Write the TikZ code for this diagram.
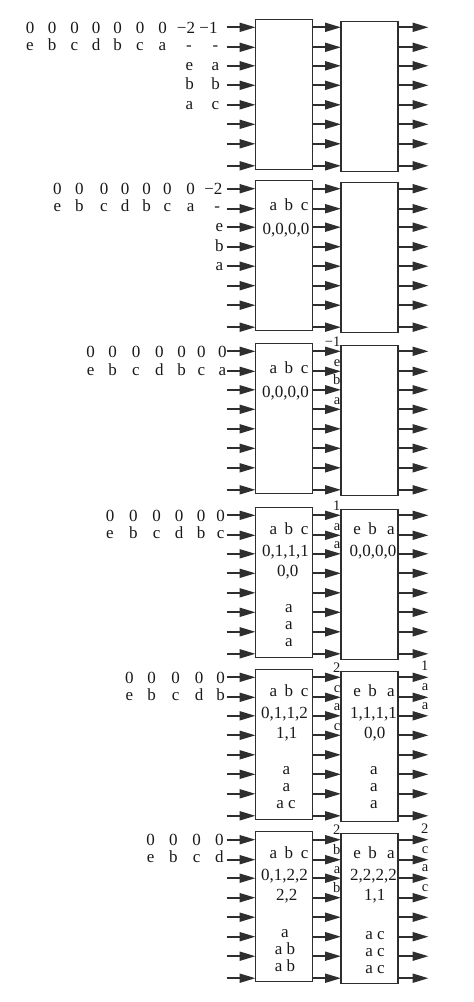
\documentclass[tikz,border=0pt]{standalone}
\usepackage{fontspec}
\setmainfont{Liberation Serif}
\usetikzlibrary{arrows.meta}
\begin{document}
\begin{tikzpicture}[x=1pt,y=-1pt,
  box/.style={draw=black!82, line width=1.5pt, minimum width=57pt, minimum height=150pt, inner sep=0pt, outer sep=0pt, anchor=north west},
  arr/.style={draw=black!82, line width=1.9pt, -{Triangle[length=16pt,width=9pt]}},
  lt/.style={anchor=base, inner sep=0pt, text=black!90, font=\fontsize{17}{20}\selectfont},
  sm/.style={anchor=base east, inner sep=0pt, text=black!90, font=\fontsize{14.5}{16}\selectfont},
]
\useasboundingbox (0,0) rectangle (474,1002);
\coordinate (inx) at (226.5,0);
\coordinate (outx) at (428.5,0);
% boxes and arrows
\foreach \p/\t in {1/19.3,2/180.7,3/343.3,4/507.3,5/669.3,6/831.7}{
  \node[box] (L\p) at (255.5,\t) {};
  \node[box] (R\p) at (341,\t+2) {};
  \foreach \r/\o in {1/8,2/28,3/46.5,4/66,5/85.5,6/105,7/124.5,8/146.5}{
    \coordinate (r\p x\r) at (0,\t+\o);
    \draw[arr] (inx |- r\p x\r) -- (L\p.west |- r\p x\r);
    \draw[arr] (L\p.east |- r\p x\r) -- (R\p.west |- r\p x\r);
    \draw[arr] (R\p.east |- r\p x\r) -- (outx |- r\p x\r);
  }
}
% ---------- panel 1
\foreach \x/\a/\b [count=\i] in {30/0/e,52/0/b,74.5/0/c,96/0/d,117.5/0/b,140/0/c,162.5/0/a}{
  \node[lt] (t1a\i) at (\x,33.3) {\a};
  \node[lt] (t1b\i) at (\x,50.3) {\b};
}
\node[lt] (t1m2) at (186,33.3) {−2};
\node[lt] (t1m1) at (208.5,33.3) {−1};
\node[lt] (t1d1) at (189,50.3) {-};
\node[lt] (t1d2) at (215.5,50.3) {-};
\node[lt] (t1c1) at (189.5,70.3) {e};
\node[lt] (t1c2) at (215.5,70.3) {a};
\node[lt] (t1e1) at (189.5,89.8) {b};
\node[lt] (t1e2) at (215.5,89.8) {b};
\node[lt] (t1f1) at (189.5,109.3) {a};
\node[lt] (t1f2) at (215.5,109.3) {c};
% ---------- panel 2
\foreach \x/\a/\b [count=\i] in {57.3/0/e,79.3/0/b,104/0/c,125/0/d,146.7/0/b,167.3/0/c,190.7/0/a}{
  \node[lt] (t2a\i) at (\x,194.7) {\a};
  \node[lt] (t2b\i) at (\x,211.7) {\b};
}
\node[lt] (t2m2) at (213.3,194.7) {−2};
\node[lt] (t2d1) at (217.3,211.7) {-};
\node[lt] (t2c1) at (219.3,231.7) {e};
\node[lt] (t2c2) at (219.3,251.2) {b};
\node[lt] (t2c3) at (219.3,270.7) {a};
\node[lt] (t2i1) at (289,210.7) {a\hspace{.45em}b\hspace{.45em}c};
\node[lt] (t2i2) at (286,234.7) {0,0,0,0};
% ---------- panel 3
\foreach \x/\a/\b [count=\i] in {90.7/0/e,112.7/0/b,136/0/c,159.3/0/d,181.7/0/b,201.3/0/c,222.3/0/a}{
  \node[lt] (t3a\i) at (\x,357.3) {\a};
  \node[lt] (t3b\i) at (\x,375.3) {\b};
}
\node[lt] (t3i1) at (289,373.3) {a\hspace{.45em}b\hspace{.45em}c};
\node[lt] (t3i2) at (285.5,397.3) {0,0,0,0};
\node[sm] (t3s1) at (340.5,346.3) {−1};
\node[sm] (t3s2) at (340.5,366.3) {e};
\node[sm] (t3s3) at (340.5,384.8) {b};
\node[sm] (t3s4) at (340.5,404.3) {a};
% ---------- panel 4
\foreach \x/\a/\b [count=\i] in {110/0/e,133.3/0/b,156.7/0/c,179/0/d,201/0/b,220.7/0/c}{
  \node[lt] (t4a\i) at (\x,521.3) {\a};
  \node[lt] (t4b\i) at (\x,538.8) {\b};
}
\node[lt] (t4i1) at (289,534.3) {a\hspace{.45em}b\hspace{.45em}c};
\node[lt] (t4i2) at (285.5,556.3) {0,1,1,1};
\node[lt] (t4i3) at (287.7,576.3) {0,0};
\node[lt] (t4i4) at (289,612.8) {a};
\node[lt] (t4i5) at (289,629.8) {a};
\node[lt] (t4i6) at (289,646.8) {a};
\node[sm] (t4s1) at (340.5,510.3) {1};
\node[sm] (t4s2) at (340.5,530.3) {a};
\node[sm] (t4s3) at (340.5,548.8) {a};
\node[lt] (t4j1) at (374,534.3) {e\hspace{.45em}b\hspace{.6em}a};
\node[lt] (t4j2) at (373,556.3) {0,0,0,0};
% ---------- panel 5
\foreach \x/\a/\b [count=\i] in {129.3/0/e,151.7/0/b,175.7/0/c,199/0/d,220.7/0/b}{
  \node[lt] (t5a\i) at (\x,683.3) {\a};
  \node[lt] (t5b\i) at (\x,700.3) {\b};
}
\node[lt] (t5i1) at (289,696.3) {a\hspace{.45em}b\hspace{.45em}c};
\node[lt] (t5i2) at (284.5,718.3) {0,1,1,2};
\node[lt] (t5i3) at (286.7,738.3) {1,1};
\node[lt] (t5i4) at (286.5,774.8) {a};
\node[lt] (t5i5) at (286.5,791.8) {a};
\node[lt] (t5i6) at (286,808.8) {a\hspace{.25em}c};
\node[sm] (t5s1) at (340.5,672.3) {2};
\node[sm] (t5s2) at (340.5,692.3) {c};
\node[sm] (t5s3) at (340.5,710.8) {a};
\node[sm] (t5s4) at (340.5,730.3) {c};
\node[lt] (t5j1) at (374,696.3) {e\hspace{.45em}b\hspace{.6em}a};
\node[lt] (t5j2) at (373.5,718.3) {1,1,1,1};
\node[lt] (t5j3) at (374.7,738.3) {0,0};
\node[lt] (t5j4) at (374,774.8) {a};
\node[lt] (t5j5) at (374,791.8) {a};
\node[lt] (t5j6) at (374,808.8) {a};
\node[sm] (t5o1) at (428.5,670.8) {1};
\node[sm] (t5o2) at (428.5,690.8) {a};
\node[sm] (t5o3) at (428.5,709.3) {a};
% ---------- panel 6
\foreach \x/\a/\b [count=\i] in {150.7/0/e,173.3/0/b,196.7/0/c,219.3/0/d}{
  \node[lt] (t6a\i) at (\x,845.7) {\a};
  \node[lt] (t6b\i) at (\x,862.7) {\b};
}
\node[lt] (t6i1) at (289,858.7) {a\hspace{.45em}b\hspace{.45em}c};
\node[lt] (t6i2) at (284.5,880.7) {0,1,2,2};
\node[lt] (t6i3) at (286.7,900.7) {2,2};
\node[lt] (t6i4) at (285,937.2) {a};
\node[lt] (t6i5) at (285,954.2) {a\hspace{.25em}b};
\node[lt] (t6i6) at (285,971.2) {a\hspace{.25em}b};
\node[sm] (t6s1) at (340.5,834.7) {2};
\node[sm] (t6s2) at (340.5,854.7) {b};
\node[sm] (t6s3) at (340.5,873.2) {a};
\node[sm] (t6s4) at (340.5,892.7) {b};
\node[lt] (t6j1) at (374,858.7) {e\hspace{.45em}b\hspace{.6em}a};
\node[lt] (t6j2) at (373.5,880.7) {2,2,2,2};
\node[lt] (t6j3) at (374.7,900.7) {1,1};
\node[lt] (t6j4) at (375,939.7) {a\hspace{.25em}c};
\node[lt] (t6j5) at (375,956.7) {a\hspace{.25em}c};
\node[lt] (t6j6) at (375,973.2) {a\hspace{.25em}c};
\node[sm] (t6o1) at (428.5,833.2) {2};
\node[sm] (t6o2) at (428.5,853.2) {c};
\node[sm] (t6o3) at (428.5,871.7) {a};
\node[sm] (t6o4) at (428.5,891.2) {c};
\end{tikzpicture}
\end{document}
